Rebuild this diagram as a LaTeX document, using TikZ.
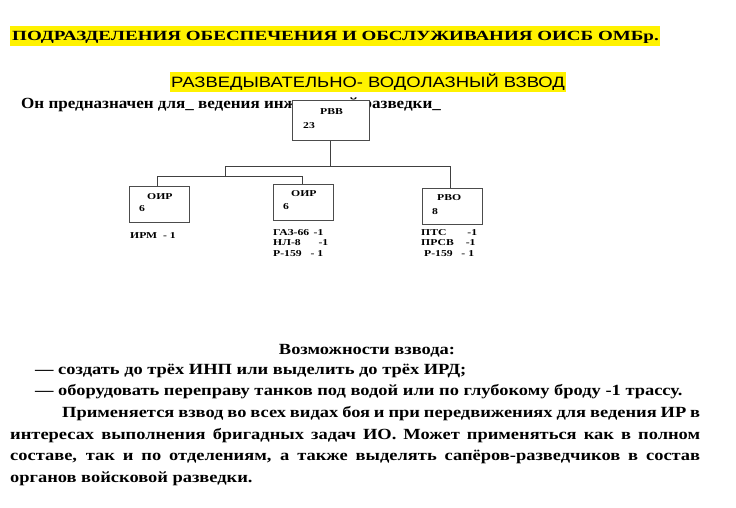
\documentclass[tikz,border=0pt]{standalone}
\usepackage{fontspec}
\setmainfont{Liberation Serif}
\newfontfamily\arialw[FakeStretch=1.23]{Liberation Sans}
\newfontfamily\serifT[FakeStretch=1.36]{Liberation Serif}
\newfontfamily\serifB[FakeStretch=1.19]{Liberation Serif}
\newfontfamily\serifH[FakeStretch=1.1]{Liberation Serif}
\newfontfamily\serifS[FakeStretch=1.3]{Liberation Serif}
\begin{document}
\begin{tikzpicture}[x=1pt,y=-1pt,
  box/.style={draw=black!70,line width=0.8pt,fill=white,inner sep=0},
  small/.style={font=\serifS\bfseries\fontsize{9}{10.5}\selectfont,inner sep=0,anchor=north west,align=left},
  body/.style={font=\serifB\bfseries\fontsize{15.5}{17}\selectfont,inner sep=0,anchor=base west},
  wire/.style={draw=black!75,line width=0.7pt}]
\useasboundingbox (0,0) rectangle (736,508);
\fill[yellow] (10,26) rectangle (660,46);
\node[inner sep=0,anchor=base west,font=\serifT\bfseries\fontsize{14}{16}\selectfont] (t1) at (12,41) {ПОДРАЗДЕЛЕНИЯ ОБЕСПЕЧЕНИЯ И ОБСЛУЖИВАНИЯ ОИСБ ОМБр.};
\fill[yellow] (170,72) rectangle (566,92);
\node[inner sep=0,anchor=base west,font=\arialw\fontsize{15}{17}\selectfont] (t2) at (171,88) {РАЗВЕДЫВАТЕЛЬНО- ВОДОЛАЗНЫЙ ВЗВОД};
\node[body,font=\serifH\bfseries\fontsize{15.5}{17}\selectfont] (t3) at (21,109) {Он предназначен для\_ ведения инженерной разведки\_};
% boxes
\node[box,minimum width=77,minimum height=40,anchor=north west] (rvv) at (292,100) {};
\node[small] (rvvl) at (320,108) {РВВ};
\node[small] (rvvn) at (303,122) {23};
\node[box,minimum width=60,minimum height=36,anchor=north west] (oir1) at (129,186) {};
\node[small] (oir1l) at (147,193) {ОИР};
\node[small] (oir1n) at (139,205) {6};
\node[box,minimum width=60,minimum height=36,anchor=north west] (oir2) at (273,184) {};
\node[small] (oir2l) at (291,190) {ОИР};
\node[small] (oir2n) at (283,203) {6};
\node[box,minimum width=60,minimum height=36,anchor=north west] (rvo) at (422,188) {};
\node[small] (rvol) at (437,194) {РВО};
\node[small] (rvon) at (432,208) {8};
% connectors
\coordinate (j1) at (330,166);
\coordinate (jl) at (225,166);
\coordinate (jr) at (450,166);
\coordinate (k) at (225,176);
\coordinate (kl) at (157,176);
\coordinate (kr) at (302,176);
\draw[wire] (rvv.south -| j1) -- (j1);
\draw[wire] (jl) -- (jr);
\draw[wire] (jr) -- (rvo.north -| jr);
\draw[wire] (jl) -- (k);
\draw[wire] (kl) -- (kr);
\draw[wire] (kl) -- (oir1.north -| kl);
\draw[wire] (kr) -- (oir2.north -| kr);
% equipment
\node[small] (e1) at (130,232) {ИРМ \ - 1};
\node[small] (e2) at (273,229) {ГАЗ-66 \,-1\\НЛ-8 \quad\ \ -1\\Р-159 \ \ - 1};
\node[small] (e3) at (421,229) {ПТС \qquad -1\\ПРСВ \quad -1\\\ Р-159 \ \ - 1};
% body text
\node[body,anchor=base] (c0) at (367,354) {Возможности взвода:};
\node[body] (c1) at (35,374) {— создать до трёх ИНП или выделить до трёх ИРД;};
\node[body] (c2) at (35,395) {— оборудовать переправу танков под водой или по глубокому броду -1 трассу.};
\node[body] (c3) at (62,417) {\makebox[638pt][s]{Применяется взвод во всех видах боя и при передвижениях для ведения ИР в}};
\node[body] (c4) at (10,439) {\makebox[690pt][s]{интересах выполнения бригадных задач ИО. Может применяться как в полном}};
\node[body] (c5) at (10,460) {\makebox[690pt][s]{составе, так и по отделениям, а также выделять сапёров-разведчиков в состав}};
\node[body] (c6) at (10,482) {органов войсковой разведки.};
\end{tikzpicture}
\end{document}
